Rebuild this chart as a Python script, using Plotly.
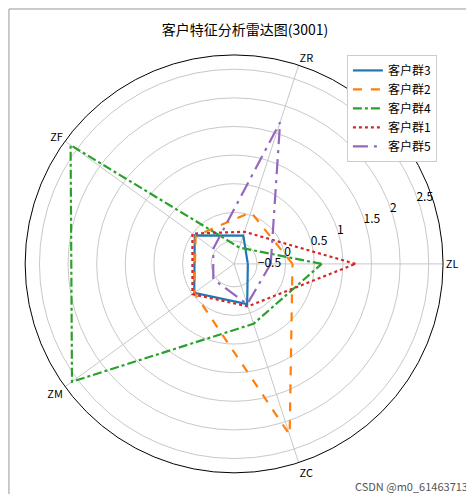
import plotly.graph_objects as go

# 雷达图数据
categorias = ["ZL", "ZR", "ZF", "ZM", "ZC"]
grupos = ["客户群3", "客户群2", "客户群4", "客户群1", "客户群5"]
valores = {
    "客户群3": [-0.66, -0.38, -0.05, -0.04, -0.16],
    "客户群2": [0.12, 0.05, -0.07, -0.04, 2.24],
    "客户群4": [0.63, -0.6, 2.63, 2.6, 0.2],
    "客户群1": [1.22, -0.31, 0.0, 0.0, -0.12],
    "客户群5": [-0.26, 1.7, -0.45, -0.45, -0.16],
}
cores = ["#1f77b4", "#ff7f0e", "#2ca02c", "#d62728", "#9467bd"]
estilos = ["solid", "dash", "dashdot", "dot", "longdashdot"]
tick_vals = [-0.5, 0.0, 0.5, 1.0, 1.5, 2.0, 2.5]

fig = go.Figure()

for g, c, s in zip(grupos, cores, estilos):
    v = valores[g]
    fig.add_trace(go.Scatterpolar(
        r=v + v[:1],
        theta=categorias + categorias[:1],
        mode="lines",
        name=g,
        line=dict(color=c, dash=s, width=2.2)
    ))

fig.update_layout(
    width=474, height=494,
    paper_bgcolor="white",
    font=dict(family="Noto Sans CJK SC, DejaVu Sans", size=11, color="black"),
    margin=dict(l=0, r=0, t=0, b=0),
    title=dict(text="客户特征分析雷达图(3001)", x=0.5, y=0.965, xanchor="center",
               font=dict(size=14)),
    showlegend=True,
    legend=dict(x=0.715, y=0.905, xanchor="left", yanchor="top",
                bgcolor="white", bordercolor="#cccccc", borderwidth=1,
                font=dict(size=12)),
    polar=dict(
        domain=dict(x=[0.036, 0.918], y=[0.059, 0.905]),
        bgcolor="white",
        angularaxis=dict(rotation=0, direction="counterclockwise",
                         showline=True, linecolor="black", linewidth=1,
                         gridcolor="#c8c8c8", ticks="", tickfont=dict(size=11)),
        radialaxis=dict(range=[-0.9, 2.75], tickvals=tick_vals, angle=22.5,
                        tickangle=22.5, showline=False, ticks="",
                        gridcolor="#c8c8c8", tickfont=dict(size=12)),
    ),
    annotations=[dict(text="CSDN @m0_61463713", x=0.975, y=0.012, xref="paper",
                      yref="paper", xanchor="right", yanchor="bottom",
                      showarrow=False, font=dict(size=11, color="#555555"))],
    shapes=[dict(type="rect", xref="paper", yref="paper", x0=0.002, y0=0.002,
                 x1=0.998, y1=0.998, line=dict(color="#999999", width=1))]
)

fig.write_html("out.html")
